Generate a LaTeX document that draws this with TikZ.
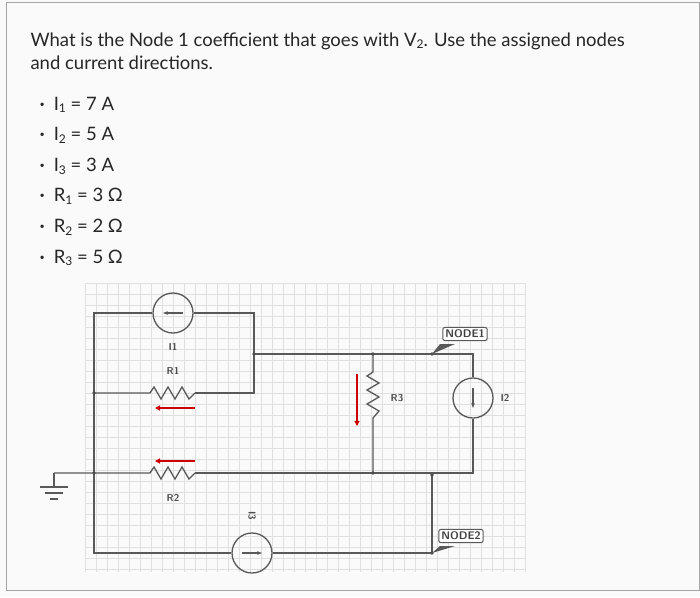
\documentclass[tikz,border=0pt]{standalone}
\usepackage{fontspec}
\setmainfont{Lato}
\usetikzlibrary{arrows.meta}
\newcommand{\sbs}[1]{\raisebox{-0.3ex}{\fontsize{12}{12}\selectfont #1}}
\begin{document}
\begin{tikzpicture}[x=1pt,y=-1pt,
 w/.style={draw=black!65,line width=1.3pt},
 src/.style={circle,draw=black!65,line width=1.3pt,minimum size=40pt,inner sep=0pt},
 lab/.style={font=\sffamily\bfseries\fontsize{10}{11}\selectfont,text=black!70},
 box/.style={draw=black!65,line width=1pt,rounded corners=2pt,fill=white,font=\sffamily\bfseries\fontsize{11}{12}\selectfont,text=black!75,inner sep=2.5pt},
 txt/.style={anchor=base west,font=\fontsize{18.5}{22}\selectfont,text=black!85},
 red/.style={draw=red!80!black,line width=1.6pt,-{Triangle[length=5pt,width=5pt]}}]
\useasboundingbox (0,0) rectangle (700,597);
\fill[black!2] (0,0) rectangle (700,597);
\draw[black!35,line width=1pt] (6,2) rectangle (699,590);
\node[txt] (q1) at (27,46) {What is the Node 1 coefficient that goes with V\sbs{2}. Use the assigned nodes};
\node[txt] (q2) at (27,69) {and current directions.};
\foreach \t [count=\i] in {I\sbs{1} = 7 A, I\sbs{2} = 5 A, I\sbs{3} = 3 A, R\sbs{1} = 3 Ω, R\sbs{2} = 2 Ω, R\sbs{3} = 5 Ω}
  \node[txt] (b\i) at (36,{110+30.6*(\i-1)}) {\raisebox{0.3ex}{\small •}\hspace{9pt}\t};
% grid
\foreach \k in {0,...,40} \draw[black!12,line width=0.6pt] ({85+11*\k},283) -- ({85+11*\k},572);
\foreach \k in {0,...,26} \draw[black!12,line width=0.6pt] (85,{283+11*\k}) -- (525,{283+11*\k});
% wires
\coordinate (tl) at (94,313); \coordinate (tr) at (254,313);
\coordinate (nA) at (254,354); \coordinate (r3t) at (373,354);
\coordinate (n1) at (432,354); \coordinate (i2t) at (473,354);
\coordinate (lR1) at (94,393); \coordinate (rR1) at (254,393);
\coordinate (lR2) at (94,473); \coordinate (r3b) at (373,473);
\coordinate (n2t) at (432,475); \coordinate (i2b) at (473,473);
\coordinate (bl) at (94,553); \coordinate (n2) at (432,553);
\coordinate (g) at (54,473);
\node[src] (I1) at (173,313) {};
\node[src] (I2) at (473,398) {};
\node[src] (I3) at (252,553) {};
\draw[w] (I1) -- (tl) -- (bl) -- (I3) -- (n2) -- (n2t);
\draw[w] (I1) -- (tr) -- (rR1) -- (195,393);
\draw[w] (nA) -- (i2t) -- (I2) -- (i2b) -- (195,473);
\draw[w] (lR1) -- (150,393) -- ++(4,-6)--++(7,12)--++(7,-12)--++(7,12)--++(7,-12)--++(7,12)--(195,393);
\draw[w] (g) -- (lR2) -- (150,473) -- ++(4,-6)--++(7,12)--++(7,-12)--++(7,12)--++(7,-12)--++(7,12)--(195,473);
\draw[w] (r3t) -- (373,372) -- ++(-6,4)--++(12,7)--++(-12,7)--++(12,7)--++(-12,7)--++(12,7)--(373,418) -- (r3b);
\foreach \p in {nA,r3t,n1,lR1,lR2,r3b,n2t,n2} \fill[black!70] (\p) circle (1.8pt);
% ground
\draw[w] (g) -- (54,487);
\draw[w] (40,487) -- (68,487); \draw[w] (45,493) -- (63,493); \draw[w] (50,499) -- (58,499);
% source arrows
\draw[w,-{Stealth[length=5pt]}] (183,313) -- (163,313);
\draw[w,-{Stealth[length=5pt]}] (473,388) -- (473,408);
\draw[w,-{Stealth[length=5pt]}] (242,553) -- (262,553);
% red arrows
\draw[red] (195,408) -- (155,408);
\draw[red] (195,461) -- (155,461);
\draw[red] (357,374) -- (357,426);
% labels
\node[lab] (l1) at (173,347) {I1};
\node[lab] (lr1) at (173,371) {R1};
\node[lab] (lr2) at (173,498) {R2};
\node[lab] (lr3) at (397,398) {R3};
\node[lab] (l2) at (505,398) {I2};
\node[lab,rotate=-90] (l3) at (252,516) {I3};
\node[box] (N1) at (465,334) {NODE1};
\node[box] (N2) at (461,536) {NODE2};
\fill[black!65] (n1) -- (440,344) -- (455,344) -- cycle;
\fill[black!65] (n2) -- (440,546) -- (455,546) -- cycle;
\end{tikzpicture}
\end{document}
